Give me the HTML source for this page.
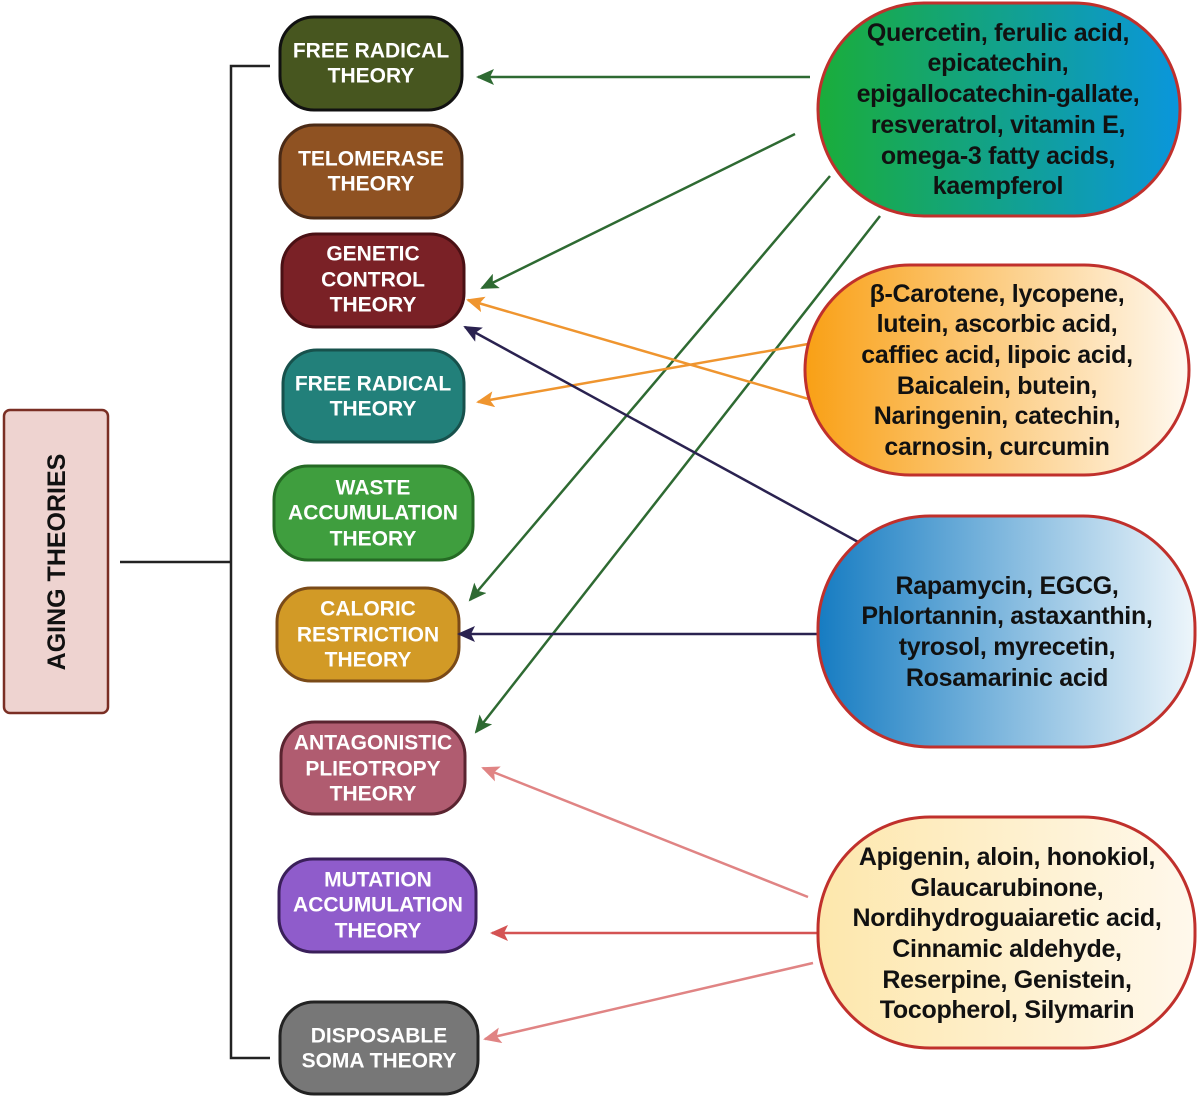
<!DOCTYPE html>
<html><head><meta charset="utf-8"><style>
html,body{margin:0;padding:0;background:#fff;}
svg{display:block;}
.b{font-family:"Liberation Sans",sans-serif;font-weight:bold;font-size:21px;fill:#fff;text-anchor:middle;dominant-baseline:central;}
.e{font-family:"Liberation Sans",sans-serif;font-weight:bold;font-size:25px;fill:#111;text-anchor:middle;dominant-baseline:central;letter-spacing:-0.3px;}
</style></head><body>
<svg width="1200" height="1099" viewBox="0 0 1200 1099" xmlns="http://www.w3.org/2000/svg">
<defs>
<linearGradient id="g1" x1="0" x2="1" y1="0" y2="0"><stop offset="0" stop-color="#1aad3a"/><stop offset="1" stop-color="#0a96dc"/></linearGradient>
<linearGradient id="g2" x1="0" x2="1" y1="0" y2="0"><stop offset="0" stop-color="#f9a015"/><stop offset="1" stop-color="#fff9f0"/></linearGradient>
<linearGradient id="g3" x1="0" x2="1" y1="0" y2="0"><stop offset="0" stop-color="#167cc2"/><stop offset="1" stop-color="#eef6fb"/></linearGradient>
<linearGradient id="g4" x1="0" x2="1" y1="0" y2="0"><stop offset="0" stop-color="#fde7ac"/><stop offset="1" stop-color="#fff8ec"/></linearGradient>
<marker id="mg" markerWidth="18" markerHeight="16" refX="16" refY="8" orient="auto" markerUnits="userSpaceOnUse" viewBox="0 0 18 16"><path d="M0,0 L18,8 L0,16 L4,8 Z" fill="#2e6a32"/></marker>
<marker id="mo" markerWidth="18" markerHeight="16" refX="16" refY="8" orient="auto" markerUnits="userSpaceOnUse" viewBox="0 0 18 16"><path d="M0,0 L18,8 L0,16 L4,8 Z" fill="#ef952f"/></marker>
<marker id="mn" markerWidth="18" markerHeight="16" refX="16" refY="8" orient="auto" markerUnits="userSpaceOnUse" viewBox="0 0 18 16"><path d="M0,0 L18,8 L0,16 L4,8 Z" fill="#2a2250"/></marker>
<marker id="mp" markerWidth="18" markerHeight="16" refX="16" refY="8" orient="auto" markerUnits="userSpaceOnUse" viewBox="0 0 18 16"><path d="M0,0 L18,8 L0,16 L4,8 Z" fill="#e08484"/></marker>
<marker id="mr" markerWidth="18" markerHeight="16" refX="16" refY="8" orient="auto" markerUnits="userSpaceOnUse" viewBox="0 0 18 16"><path d="M0,0 L18,8 L0,16 L4,8 Z" fill="#d45353"/></marker>
</defs>

<g stroke="#222" stroke-width="2.5" fill="none">
<path d="M270,66 H231 V1058 H270"/>
<path d="M120,562 H231"/>
</g>

<rect x="4" y="410" width="104" height="303" rx="6" fill="#eed3d0" stroke="#7a2e24" stroke-width="2.5"/>
<text transform="translate(57,562) rotate(-90)" font-family="Liberation Sans,sans-serif" font-weight="bold" font-size="25" fill="#111" text-anchor="middle" dominant-baseline="central">AGING THEORIES</text>

<g stroke-width="3">
<rect x="280" y="17" width="182" height="93" rx="34" fill="#47561f" stroke="#111"/>
<rect x="280" y="125" width="182" height="93" rx="34" fill="#8f5222" stroke="#4a2a16"/>
<rect x="282" y="234" width="182" height="93" rx="34" fill="#7a2126" stroke="#4a1014"/>
<rect x="283" y="350" width="181" height="92" rx="34" fill="#22807a" stroke="#17514c"/>
<rect x="274" y="466" width="199" height="94" rx="34" fill="#3f9e3e" stroke="#256a24"/>
<rect x="277" y="588" width="182" height="93" rx="34" fill="#d29a26" stroke="#7a4a18"/>
<rect x="281" y="722" width="184" height="92" rx="34" fill="#b05c70" stroke="#5a2430"/>
<rect x="279" y="859" width="197" height="93" rx="34" fill="#8f5ccb" stroke="#3a1f5a"/>
<rect x="280" y="1002" width="198" height="92" rx="34" fill="#777" stroke="#222"/>
</g>
<g>
<text x="371" y="51" class="b">FREE RADICAL</text><text x="371" y="76" class="b">THEORY</text>
<text x="371" y="159" class="b">TELOMERASE</text><text x="371" y="184" class="b">THEORY</text>
<text x="373" y="254" class="b">GENETIC</text><text x="373" y="280" class="b">CONTROL</text><text x="373" y="305" class="b">THEORY</text>
<text x="373" y="384" class="b">FREE RADICAL</text><text x="373" y="409" class="b">THEORY</text>
<text x="373" y="488" class="b">WASTE</text><text x="373" y="513" class="b">ACCUMULATION</text><text x="373" y="539" class="b">THEORY</text>
<text x="368" y="609" class="b">CALORIC</text><text x="368" y="635" class="b">RESTRICTION</text><text x="368" y="660" class="b">THEORY</text>
<text x="373" y="743" class="b">ANTAGONISTIC</text><text x="373" y="769" class="b">PLIEOTROPY</text><text x="373" y="794" class="b">THEORY</text>
<text x="378" y="880" class="b">MUTATION</text><text x="378" y="905" class="b">ACCUMULATION</text><text x="378" y="931" class="b">THEORY</text>
<text x="379" y="1036" class="b">DISPOSABLE</text><text x="379" y="1061" class="b">SOMA THEORY</text>
</g>

<g stroke-width="2.5" fill="none">
<line x1="810" y1="77" x2="478" y2="77" stroke="#2e6a32" marker-end="url(#mg)"/>
<line x1="795" y1="134" x2="482" y2="288" stroke="#2e6a32" marker-end="url(#mg)"/>
<line x1="830" y1="176" x2="470" y2="600" stroke="#2e6a32" marker-end="url(#mg)"/>
<line x1="880" y1="216" x2="476" y2="732" stroke="#2e6a32" marker-end="url(#mg)"/>
<line x1="808" y1="344" x2="478" y2="402" stroke="#ef952f" marker-end="url(#mo)"/>
<line x1="843" y1="409" x2="468" y2="300" stroke="#ef952f" marker-end="url(#mo)"/>
<line x1="860" y1="543" x2="465" y2="327" stroke="#2a2250" marker-end="url(#mn)"/>
<line x1="818" y1="634" x2="459" y2="634" stroke="#2a2250" marker-end="url(#mn)"/>
<line x1="808" y1="897" x2="483" y2="768" stroke="#e08484" marker-end="url(#mp)"/>
<line x1="818" y1="933" x2="492" y2="933" stroke="#d45353" marker-end="url(#mr)"/>
<line x1="813" y1="963" x2="485" y2="1039" stroke="#e08484" marker-end="url(#mp)"/>
</g>

<g stroke="#c0302c" stroke-width="3">
<rect x="818" y="3" width="362" height="213" rx="106" fill="url(#g1)"/>
<rect x="805" y="265" width="384" height="210" rx="105" fill="url(#g2)"/>
<rect x="818" y="516" width="377" height="231" rx="112" fill="url(#g3)"/>
<rect x="818" y="817" width="377" height="231" rx="112" fill="url(#g4)"/>
</g>
<g>
<text class="e" x="998" y="33">Quercetin, ferulic acid,</text>
<text class="e" x="998" y="63">epicatechin,</text>
<text class="e" x="998" y="94">epigallocatechin-gallate,</text>
<text class="e" x="998" y="125">resveratrol, vitamin E,</text>
<text class="e" x="998" y="156">omega-3 fatty acids,</text>
<text class="e" x="998" y="186">kaempferol</text>

<text class="e" x="997" y="294">β-Carotene, lycopene,</text>
<text class="e" x="997" y="324">lutein, ascorbic acid,</text>
<text class="e" x="997" y="355">caffiec acid, lipoic acid,</text>
<text class="e" x="997" y="386">Baicalein, butein,</text>
<text class="e" x="997" y="416">Naringenin, catechin,</text>
<text class="e" x="997" y="447">carnosin, curcumin</text>

<text class="e" x="1007" y="586">Rapamycin, EGCG,</text>
<text class="e" x="1007" y="616">Phlortannin, astaxanthin,</text>
<text class="e" x="1007" y="647">tyrosol, myrecetin,</text>
<text class="e" x="1007" y="678">Rosamarinic acid</text>

<text class="e" x="1007" y="857">Apigenin, aloin, honokiol,</text>
<text class="e" x="1007" y="888">Glaucarubinone,</text>
<text class="e" x="1007" y="918">Nordihydroguaiaretic acid,</text>
<text class="e" x="1007" y="949">Cinnamic aldehyde,</text>
<text class="e" x="1007" y="980">Reserpine, Genistein,</text>
<text class="e" x="1007" y="1010">Tocopherol, Silymarin</text>
</g>
</svg>
</body></html>
